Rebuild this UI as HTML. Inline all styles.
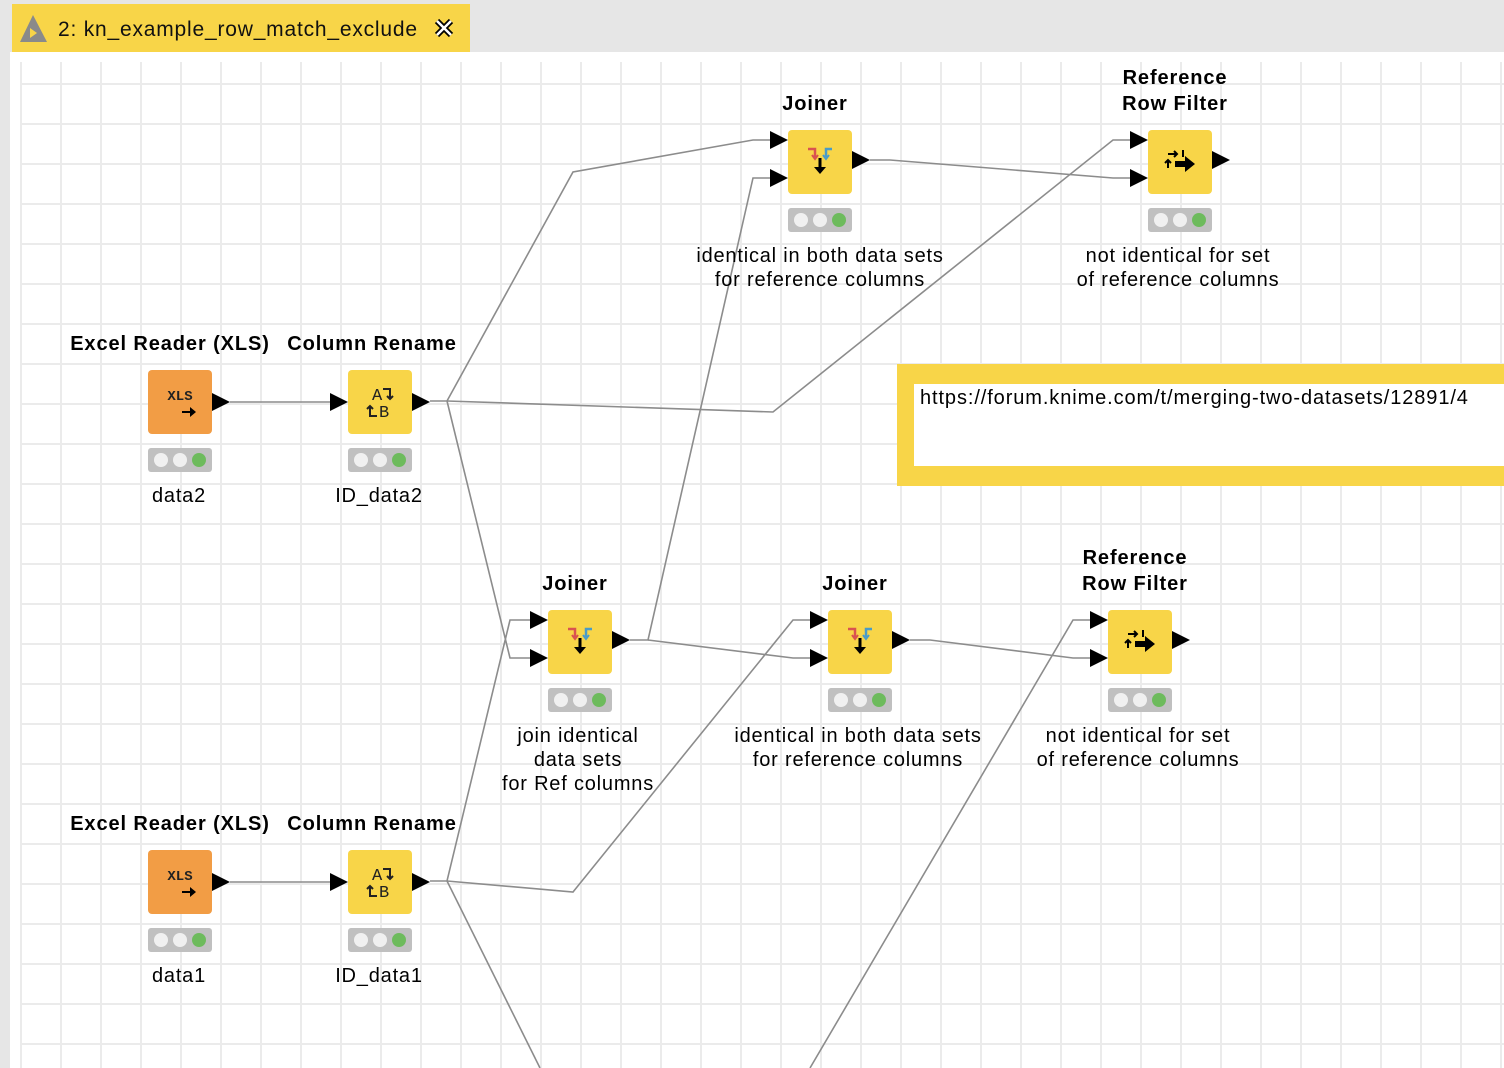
<!DOCTYPE html>
<html><head><meta charset="utf-8"><style>
html,body{margin:0;padding:0;background:#e6e6e6;}
svg{display:block;font-family:"Liberation Sans",Arial,sans-serif;}
</style></head><body>
<svg width="1504" height="1068" viewBox="0 0 1504 1068" xmlns="http://www.w3.org/2000/svg">
<defs>
<pattern id="grid" x="20" y="43" width="40" height="40" patternUnits="userSpaceOnUse">
<rect x="0" y="0" width="2" height="40" fill="#ebebeb"/>
<rect x="0" y="0" width="40" height="2" fill="#ebebeb"/>
</pattern>
<g id="status">
<rect x="0" y="0" width="64" height="24" rx="3" fill="#c0c0c0"/>
<circle cx="13" cy="12" r="7" fill="#f0f0f0"/>
<circle cx="32" cy="12" r="7" fill="#f0f0f0"/>
<circle cx="51" cy="12" r="7" fill="#6dbb5c"/>
</g>
<path id="tri" d="M0,-9 L18,0 L0,9Z" fill="#000"/>
<g id="joinicon">
<path d="M-12,-13 h7 v8" stroke="#d9534f" stroke-width="2.5" fill="none"/>
<path d="M-8,-7 l3,4 l3,-4" stroke="#d9534f" stroke-width="2" fill="none"/>
<path d="M12,-13 h-6 v8" stroke="#4a9cc8" stroke-width="2.5" fill="none"/>
<path d="M3,-7 l3,4 l3,-4" stroke="#4a9cc8" stroke-width="2" fill="none"/>
<path d="M0,-4 v14" stroke="#000" stroke-width="3"/>
<path d="M-6,5 l6,7 l6,-7z" fill="#000"/>
</g>
<g id="joiner">
<rect x="0" y="0" width="64" height="64" rx="4" fill="#f8d548"/>
<use href="#joinicon" x="32" y="32"/>
<use href="#tri" x="-18" y="10"/>
<use href="#tri" x="-18" y="48"/>
<use href="#tri" x="64" y="30"/>
<use href="#status" x="0" y="78"/>
</g>
<g id="rrf">
<rect x="0" y="0" width="64" height="64" rx="4" fill="#f8d548"/>
<path d="M20,24 h9 M26,21 l3,3 l-3,3 M35,20 v7 M20,38 v-8 M17,33 l3,-3 l3,3" stroke="#000" stroke-width="2" fill="none"/>
<path d="M27,31 h10 v-5 l10,8 l-10,8 v-5 h-10z" fill="#000"/>
<use href="#tri" x="-18" y="10"/>
<use href="#tri" x="-18" y="48"/>
<use href="#tri" x="64" y="30"/>
<use href="#status" x="0" y="78"/>
</g>
<g id="excel">
<rect x="0" y="0" width="64" height="64" rx="4" fill="#f29d45"/>
<text x="32" y="30" font-size="14" font-weight="bold" text-anchor="middle" font-family="Liberation Mono,monospace" fill="#222">XLS</text>
<path d="M34,41 h8 v-4 l6,5 l-6,5 v-4 h-8z" fill="#000"/>
<use href="#tri" x="64" y="32"/>
<use href="#status" x="0" y="78"/>
</g>
<g id="rename">
<rect x="0" y="0" width="64" height="64" rx="4" fill="#f8d548"/>
<text x="24" y="30" font-size="17" font-family="Liberation Mono,monospace" fill="#222">A</text>
<path d="M35,19 h7 v10 M39,26 l3,3 l3,-3" stroke="#222" stroke-width="2" fill="none"/>
<path d="M22,36 v10 h7 M19,39 l3,-3 l3,3" stroke="#222" stroke-width="2" fill="none"/>
<text x="31" y="47" font-size="17" font-family="Liberation Mono,monospace" fill="#222">B</text>
<use href="#tri" x="-18" y="32"/>
<use href="#tri" x="64" y="32"/>
<use href="#status" x="0" y="78"/>
</g>
</defs>
<rect x="0" y="0" width="1504" height="1068" fill="#e6e6e6"/>
<rect x="10" y="52" width="1494" height="1016" fill="#fff"/>
<rect x="20" y="62" width="1484" height="1006" fill="url(#grid)"/>
<!-- tab -->
<rect x="12" y="4" width="458" height="48" fill="#f8d548"/>
<path d="M20,42 L33,15 L47,42Z" fill="#8a8a8a"/>
<path d="M30,28 l7,5 l-7,5z" fill="#f8d548"/>
<text x="58" y="36" font-size="21" fill="#111" letter-spacing="0.8">2: kn_example_row_match_exclude</text>
<path d="M437,21 l14,14 M451,21 l-14,14" stroke="#000" stroke-width="6"/>
<path d="M437,21 l14,14 M451,21 l-14,14" stroke="#fff" stroke-width="2.5"/>
<!-- annotation -->
<rect x="897" y="364" width="620" height="122" fill="#f8d548"/>
<rect x="914" y="384" width="600" height="82" fill="#fff"/>
<text x="920" y="404" font-size="20" fill="#000" letter-spacing="0.9">https://forum.knime.com/t/merging-two-datasets/12891/4</text>
<!-- connections -->
<g stroke="#8c8c8c" stroke-width="1.6" fill="none">
<polyline points="230,402 330,402"/>
<polyline points="230,882 330,882"/>
<polyline points="430,401 447,401 573,172 753,140 770,140"/>
<polyline points="447,401 773,412 1113,140 1130,140"/>
<polyline points="447,401 510,658 530,658"/>
<polyline points="870,160 890,160 1113,178 1130,178"/>
<polyline points="430,881 447,881 510,620 530,620"/>
<polyline points="447,881 540,1068"/>
<polyline points="447,881 573,892 793,620 810,620"/>
<polyline points="630,640 648,640 753,178 770,178"/>
<polyline points="648,640 793,658 810,658"/>
<polyline points="910,640 930,640 1073,658 1090,658"/>
<polyline points="810,1068 1073,620 1090,620"/>
</g>
<!-- nodes -->
<use href="#excel" x="148" y="370"/>
<use href="#rename" x="348" y="370"/>
<use href="#excel" x="148" y="850"/>
<use href="#rename" x="348" y="850"/>
<use href="#joiner" x="788" y="130"/>
<use href="#rrf" x="1148" y="130"/>
<use href="#joiner" x="548" y="610"/>
<use href="#joiner" x="828" y="610"/>
<use href="#rrf" x="1108" y="610"/>
<!-- labels -->
<g font-size="20" font-weight="bold" text-anchor="middle" fill="#000" letter-spacing="0.9">
<text x="170" y="350">Excel Reader (XLS)</text>
<text x="372" y="350">Column Rename</text>
<text x="170" y="830">Excel Reader (XLS)</text>
<text x="372" y="830">Column Rename</text>
<text x="815" y="110">Joiner</text>
<text x="1175" y="84">Reference</text>
<text x="1175" y="110">Row Filter</text>
<text x="575" y="590">Joiner</text>
<text x="855" y="590">Joiner</text>
<text x="1135" y="564">Reference</text>
<text x="1135" y="590">Row Filter</text>
</g>
<g font-size="20" text-anchor="middle" fill="#000" letter-spacing="0.8">
<text x="179" y="502">data2</text>
<text x="379" y="502">ID_data2</text>
<text x="179" y="982">data1</text>
<text x="379" y="982">ID_data1</text>
<text x="820" y="262">identical in both data sets</text>
<text x="820" y="286">for reference columns</text>
<text x="1178" y="262">not identical for set</text>
<text x="1178" y="286">of reference columns</text>
<text x="578" y="742">join identical</text>
<text x="578" y="766">data sets</text>
<text x="578" y="790">for Ref columns</text>
<text x="858" y="742">identical in both data sets</text>
<text x="858" y="766">for reference columns</text>
<text x="1138" y="742">not identical for set</text>
<text x="1138" y="766">of reference columns</text>
</g>
</svg>
</body></html>
